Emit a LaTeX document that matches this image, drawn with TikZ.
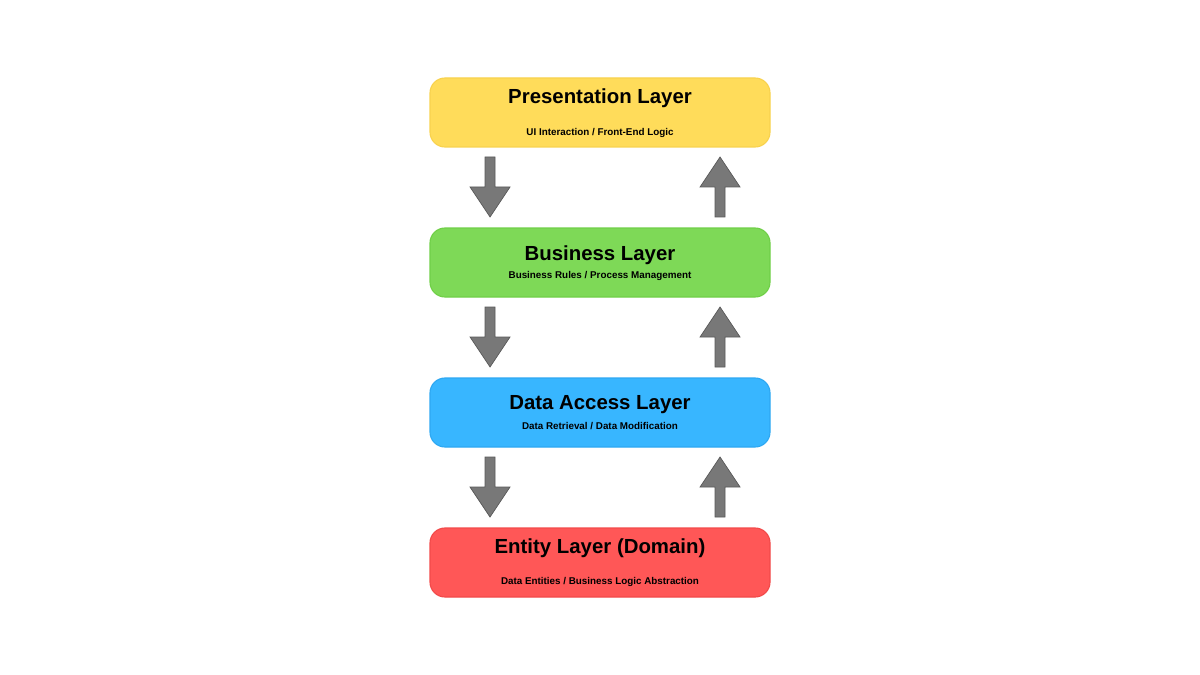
\documentclass[tikz,border=0pt]{standalone}
\usepackage{fontspec}
\setmainfont{Liberation Sans}
\begin{document}
\begin{tikzpicture}[x=0.025cm,y=-0.025cm,
  layer/.style={rounded corners=15pt*0.71, line width=0.8pt},
  ttl/.style={font=\bfseries\fontsize{14.5pt}{16pt}\selectfont, inner sep=0},
  sub/.style={font=\bfseries\fontsize{7pt}{8pt}\selectfont, inner sep=0},
  arr/.style={fill=black!53, draw=black!65, line width=0.5pt}]
\useasboundingbox (0,0) rectangle (1200,675);
\definecolor{cy}{HTML}{FFDC5A}\definecolor{cyb}{HTML}{F8D24E}
\definecolor{cg}{HTML}{7ED957}\definecolor{cgb}{HTML}{70CF48}
\definecolor{cb}{HTML}{38B6FF}\definecolor{cbb}{HTML}{2EA8F2}
\definecolor{cr}{HTML}{FF5757}\definecolor{crb}{HTML}{F24A4A}
\draw[layer,fill=cy,draw=cyb] (430,78) rectangle (770,147);
\draw[layer,fill=cg,draw=cgb] (430,228) rectangle (770,297);
\draw[layer,fill=cb,draw=cbb] (430,378) rectangle (770,447);
\draw[layer,fill=cr,draw=crb] (430,528) rectangle (770,597);
\node[ttl] (t1) at (600,98) {Presentation Layer};
\node[sub] (s1) at (600,133) {UI Interaction / Front-End Logic};
\node[ttl] (t2) at (600,255) {Business Layer};
\node[sub] (s2) at (600,276) {Business Rules / Process Management};
\node[ttl] (t3) at (600,405) {Data Access Layer};
\node[sub] (s3) at (600,426) {Data Retrieval / Data Modification};
\node[ttl] (t4) at (600,548) {Entity Layer (Domain)};
\node[sub] (s4) at (600,582) {Data Entities / Business Logic Abstraction};
\foreach \y in {157,307,457}{
  \draw[arr] (485,\y) -- (495,\y) -- (495,\y+30) -- (510,\y+30) -- (490,\y+60) -- (470,\y+30) -- (485,\y+30) -- cycle;
  \draw[arr] (715,\y+60) -- (725,\y+60) -- (725,\y+30) -- (740,\y+30) -- (720,\y) -- (700,\y+30) -- (715,\y+30) -- cycle;
}
\end{tikzpicture}
\end{document}
